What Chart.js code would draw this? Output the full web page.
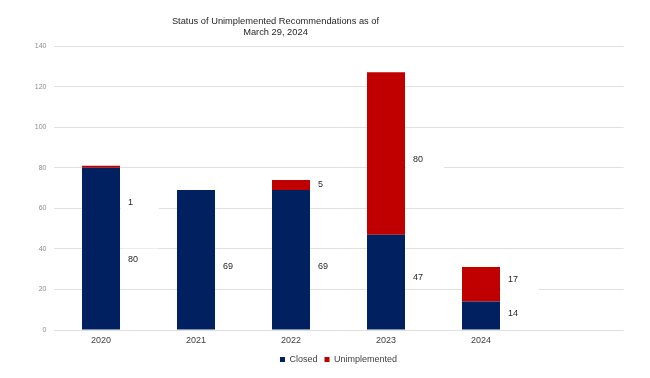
<!DOCTYPE html>
<html>
<head>
<meta charset="utf-8">
<script src="https://cdn.jsdelivr.net/npm/chart.js@4/dist/chart.umd.min.js"></script>
<style>
  html, body { margin: 0; padding: 0; background: #ffffff; }
  #wrap { width: 650px; height: 378px; }
</style>
</head>
<body>
<div id="wrap"><canvas id="c" width="650" height="378"></canvas></div>
<script>
const titleLines = ['Status of Unimplemented Recommendations as of', 'March 29, 2024'];
const categories = ['2020', '2021', '2022', '2023', '2024', ''];
const closedValues = [80, 69, 69, 47, 14, null];
const unimplementedValues = [1, 0, 5, 80, 17, null];
const seriesNames = ['Closed', 'Unimplemented'];
const yMin = 0, yMax = 140, yStep = 20;

// label vertical nudges (pixels) relative to segment centre, per dataset
const labelNudges = [
  [11, 7, 7, -5, -2, 0],
  [36, 0, 0, 6, -5, 0]
];

const titlePlugin = {
  id: 'customTitle',
  afterDraw(chart) {
    const ctx = chart.ctx;
    ctx.save();
    ctx.fillStyle = '#262626';
    ctx.font = '9.3px "Liberation Sans", Arial, sans-serif';
    ctx.textAlign = 'center';
    ctx.textBaseline = 'middle';
    ctx.fillText(titleLines[0], 275.5, 21);
    ctx.fillText(titleLines[1], 275.5, 32);
    ctx.restore();
  }
};

const labelPlugin = {
  id: 'segLabels',
  afterDatasetsDraw(chart) {
    const ctx = chart.ctx;
    const items = [];
    chart.data.datasets.forEach((ds, i) => {
      const meta = chart.getDatasetMeta(i);
      meta.data.forEach((bar, j) => {
        const v = ds.data[j];
        if (!v) return;
        const p = bar.getProps(['x', 'y', 'base', 'width'], true);
        const cy = (p.y + p.base) / 2 + labelNudges[i][j];
        const right = p.x + p.width / 2;
        items.push({ v, cy, right });
      });
    });
    ctx.save();
    ctx.fillStyle = '#ffffff';
    items.forEach(it => ctx.fillRect(it.right + 1, it.cy - 11, 38, 22));
    ctx.fillStyle = '#262626';
    ctx.font = '9px "Liberation Sans", Arial, sans-serif';
    ctx.textAlign = 'left';
    ctx.textBaseline = 'middle';
    items.forEach(it => ctx.fillText(String(it.v), it.right + 8, it.cy));
    ctx.restore();
  }
};

new Chart(document.getElementById('c'), {
  type: 'bar',
  data: {
    labels: categories,
    datasets: [
      { label: seriesNames[0], data: closedValues, backgroundColor: '#002060', borderWidth: 0 },
      { label: seriesNames[1], data: unimplementedValues, backgroundColor: '#C00000', borderWidth: 0 }
    ]
  },
  options: {
    responsive: false,
    animation: false,
    devicePixelRatio: 1,
    categoryPercentage: 0.4,
    barPercentage: 1,
    layout: { padding: { top: 46, right: 26.5, bottom: 4, left: 0 } },
    plugins: {
      title: { display: false },
      tooltip: { enabled: false },
      legend: {
        position: 'bottom',
        fullSize: false,
        labels: {
          boxWidth: 5,
          boxHeight: 5,
          padding: 7,
          color: '#404040',
          font: { family: '"Liberation Sans", Arial, sans-serif', size: 9 }
        }
      }
    },
    scales: {
      x: {
        stacked: true,
        grid: { display: false, drawTicks: false, tickLength: 0 },
        border: { display: false },
        ticks: {
          color: '#404040',
          padding: 5,
          font: { family: '"Liberation Sans", Arial, sans-serif', size: 9 }
        },
        afterFit(scale) { scale.height = 18; }
      },
      y: {
        stacked: true,
        min: yMin,
        max: yMax,
        grid: { color: '#e0e0e0', drawTicks: false },
        border: { display: false },
        ticks: {
          stepSize: yStep,
          color: '#8c8c8c',
          padding: 7,
          font: { family: '"Liberation Sans", Arial, sans-serif', size: 7 }
        },
        afterFit(scale) { scale.width = 53.5; }
      }
    }
  },
  plugins: [titlePlugin, labelPlugin]
});
</script>
</body>
</html>
